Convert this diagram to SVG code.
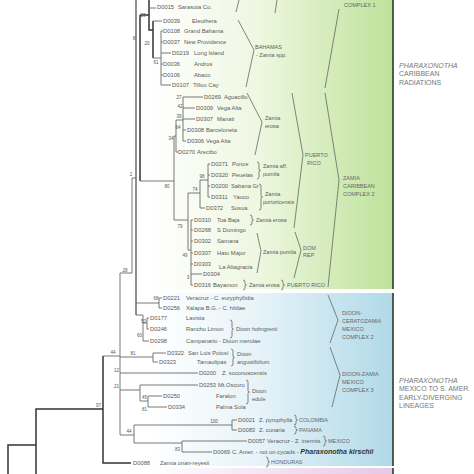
<svg xmlns="http://www.w3.org/2000/svg" width="474" height="474" viewBox="0 0 474 474">
<defs>
<linearGradient id="gG" gradientUnits="userSpaceOnUse" x1="150" y1="0" x2="393" y2="0"><stop offset="0" stop-color="#ffffff"/><stop offset="0.45" stop-color="#eef7e0"/><stop offset="1" stop-color="#bde29a"/></linearGradient>
<linearGradient id="gB" gradientUnits="userSpaceOnUse" x1="150" y1="0" x2="393" y2="0"><stop offset="0" stop-color="#ffffff"/><stop offset="0.45" stop-color="#e6f3f8"/><stop offset="1" stop-color="#b0d9e8"/></linearGradient>
<linearGradient id="gP" gradientUnits="userSpaceOnUse" x1="150" y1="0" x2="393" y2="0"><stop offset="0" stop-color="#ffffff"/><stop offset="1" stop-color="#e4c8ea"/></linearGradient>
</defs>
<style>
text{font-family:"Liberation Sans",Arial,sans-serif;fill:#5a5a5a}
.t{font-size:5.8px}
.s{font-size:4.5px;fill:#555}
.sp{font-size:5.5px}
.cx{font-size:5.5px;fill:#666}
.big{font-size:7px;fill:#777}
.thin{fill:none;stroke:#6a6a6a;stroke-width:0.9}
.thick{fill:none;stroke:#333;stroke-width:1.5}
.med{fill:none;stroke:#444;stroke-width:1.2}
.br{fill:none;stroke:#666;stroke-width:0.8}
.edge{fill:none;stroke:#2b3a2b;stroke-width:1.6}
</style>
<rect width="474" height="474" fill="#ffffff"/>
<g id="backgrounds">
<rect x="0" y="0" width="393" height="289" fill="url(#gG)"/>
<rect x="0" y="293" width="393" height="173" fill="url(#gB)"/>
<rect x="0" y="468" width="393" height="6" fill="url(#gP)"/>
<path class="edge" d="M393 0V289M393 293V466M393 468V474"/>
</g>
<g id="connectors">
<path class="thick" d="M8 474V445H36M36 474V409H103M103 356V463H131M140 15V181M140 15H149M149 0V30H153M153 21V58"/>
<path class="med" d="M136 0V315"/>
<path class="thin" d="M149 8H156M153 21H162M153 58H161M161 31V85M161 31H163M161 42H163M161 53H171M161 64H163M161 75H163M161 85H171
M132 178H136M132 178V273M120 273H132
M140 181H174M174 136V220M174 136H176M176 120V152M176 120H183M176 152H178M183 97V141M183 97H203M183 108H195M183 119H195M183 130H186M183 141H186
M174 220H188M188 193V250M188 193H200M200 180V208M200 180H208M208 164V197M208 164H210M208 175H210M208 186H210M208 197H210M200 208H205
M188 250H191M191 220V285M191 220H193M191 230H193M191 241H193M191 253H193M191 264H193M191 274H202M191 285H193
M136 303H159M159 298V308M159 298H162M159 308H162
M136 315H143M143 315V341M143 323H147M147 318V329M147 318H149M147 329H149M143 341H149
M120 273V435M103 356H120
M120 357H153M153 353V362M153 353H166M153 362H158
M120 373H198
M120 390H140M140 385V401M140 385H198M140 401H148M148 396V407M148 396H162M148 407H167
M120 435H134M134 425V443M134 425H232M232 420V430M232 420H237M232 430H237
M134 443H182M182 441V452M182 441H247M182 452H212"/>
<path class="br" d="M239 0L236 12M277 0L275 13M339 9L325 88M325 93L339 180L328 287
M238 20L254 50L246 87M247 93L262 122L255 155M292 93L303 155L294 228M295 232L301 250L294 278M257 233L261 251L257 273
M328 295L338 320L330 343M330 347L340 375L332 407"/>
<path class="br" d="M257 162Q259 162 259 164L259 169Q259 170.5 260.5 170.5Q259 170.5 259 172L259 177Q259 179 257 179
M259 184Q261 184 261 186L261 195.5Q261 197 262.5 197Q261 197 261 198.5L261 208Q261 210 259 210
M250 215Q252 215 252 217L252 218.5Q252 220 253.5 220Q252 220 252 221.5L252 223Q252 225 250 225
M243 280Q245 280 245 282L245 283.5Q245 285 246.5 285Q245 285 245 286.5L245 288Q245 290 243 290
M281 280Q283 280 283 282L283 283.5Q283 285 284.5 285Q283 285 283 286.5L283 288Q283 290 281 290
M230 320Q232 320 232 322L232 327.5Q232 329 233.5 329Q232 329 232 330.5L232 336Q232 338 230 338
M231 349Q233 349 233 351L233 356Q233 357.5 234.5 357.5Q233 357.5 233 359L233 364Q233 366 231 366
M246 380Q248 380 248 382L248 390.5Q248 392 249.5 392Q248 392 248 393.5L248 402Q248 404 246 404
M294 415Q296 415 296 417L296 418.5Q296 420 297.5 420Q296 420 296 421.5L296 423Q296 425 294 425
M294 426Q296 426 296 428L296 428.5Q296 430 297.5 430Q296 430 296 431.5L296 432Q296 434 294 434
M323 436Q325 436 325 438L325 439.5Q325 441 326.5 441Q325 441 325 442.5L325 444Q325 446 323 446
M266 457Q268 457 268 459L268 460.5Q268 462 269.5 462Q268 462 268 463.5L268 465Q268 467 266 467"/>
</g>
<g id="support-values">
<text class="s" x="143" y="17" text-anchor="middle">23</text>
<text class="s" x="134" y="40" text-anchor="middle">8</text>
<text class="s" x="147" y="45" text-anchor="middle">20</text>
<text class="s" x="156" y="64" text-anchor="middle">61</text>
<text class="s" x="179" y="99" text-anchor="middle">27</text>
<text class="s" x="180" y="108" text-anchor="middle">42</text>
<text class="s" x="179" y="118" text-anchor="middle">39</text>
<text class="s" x="178" y="129" text-anchor="middle">64</text>
<text class="s" x="171" y="140" text-anchor="middle">34</text>
<text class="s" x="131" y="176" text-anchor="middle">2</text>
<text class="s" x="202" y="178" text-anchor="middle">98</text>
<text class="s" x="167" y="188" text-anchor="middle">80</text>
<text class="s" x="195" y="191" text-anchor="middle">74</text>
<text class="s" x="180" y="228" text-anchor="middle">79</text>
<text class="s" x="185" y="257" text-anchor="middle">49</text>
<text class="s" x="188" y="279" text-anchor="middle">3</text>
<text class="s" x="125" y="272" text-anchor="middle">28</text>
<text class="s" x="156" y="300" text-anchor="middle">68</text>
<text class="s" x="146" y="323" text-anchor="end">50</text>
<text class="s" x="142" y="337" text-anchor="end">60</text>
<text class="s" x="113" y="354" text-anchor="middle">44</text>
<text class="s" x="133" y="355" text-anchor="middle">81</text>
<text class="s" x="119" y="372" text-anchor="end">12</text>
<text class="s" x="119" y="388" text-anchor="end">21</text>
<text class="s" x="147" y="399" text-anchor="end">45</text>
<text class="s" x="147" y="411" text-anchor="end">81</text>
<text class="s" x="101" y="407" text-anchor="end">97</text>
<text class="s" x="214" y="423" text-anchor="middle">100</text>
<text class="s" x="129" y="433" text-anchor="middle">44</text>
<text class="s" x="180" y="451" text-anchor="end">83</text>
</g>
<g id="tip-D0015"><text class="t" x="157" y="9">D0015</text><text class="t" x="178" y="9">Sarasota Co.</text></g>
<g id="tip-D0039"><text class="t" x="163" y="23">D0039</text><text class="t" x="192" y="23">Eleuthera</text></g>
<g id="tip-D0108"><text class="t" x="163" y="33">D0108</text><text class="t" x="184" y="33">Grand Bahama</text></g>
<g id="tip-D0037"><text class="t" x="163" y="44">D0037</text><text class="t" x="184" y="44">New Providence</text></g>
<g id="tip-D0219"><text class="t" x="172" y="55">D0219</text><text class="t" x="194" y="55">Long Island</text></g>
<g id="tip-D0036"><text class="t" x="163" y="66">D0036</text><text class="t" x="194" y="66">Andros</text></g>
<g id="tip-D0106"><text class="t" x="163" y="77">D0106</text><text class="t" x="194" y="77">Abaco</text></g>
<g id="tip-D0107"><text class="t" x="172" y="87">D0107</text><text class="t" x="193" y="87">Tilloo Cay</text></g>
<g id="tip-D0269"><text class="t" x="204" y="99">D0269</text><text class="t" x="224" y="99">Aguacillo</text></g>
<g id="tip-D0309"><text class="t" x="196" y="110">D0309</text><text class="t" x="217" y="110">Vega Alta</text></g>
<g id="tip-D0307a"><text class="t" x="196" y="121">D0307</text><text class="t" x="217" y="121">Manati</text></g>
<g id="tip-D0308"><text class="t" x="187" y="132">D0308</text><text class="t" x="206" y="132">Barceloneta</text></g>
<g id="tip-D0306"><text class="t" x="187" y="143">D0306</text><text class="t" x="206" y="143">Vega Alta</text></g>
<g id="tip-D0270"><text class="t" x="178" y="154">D0270</text><text class="t" x="197" y="154">Arecibo</text></g>
<g id="tip-D0271"><text class="t" x="211" y="166">D0271</text><text class="t" x="232" y="166">Ponce</text></g>
<g id="tip-D0320"><text class="t" x="211" y="177">D0320</text><text class="t" x="232" y="177">Peuelas</text></g>
<g id="tip-D0200a"><text class="t" x="211" y="188">D0200</text><text class="t" x="231" y="188">Sabana Gr</text></g>
<g id="tip-D0311"><text class="t" x="211" y="199">D0311</text><text class="t" x="233" y="199">Yauco</text></g>
<g id="tip-D0372"><text class="t" x="206" y="210">D0372</text><text class="t" x="231" y="210">Susua</text></g>
<g id="tip-D0310"><text class="t" x="194" y="222">D0310</text><text class="t" x="217" y="222">Toa Baja</text></g>
<g id="tip-D0268"><text class="t" x="194" y="232">D0268</text><text class="t" x="217" y="232">S Domingo</text></g>
<g id="tip-D0302"><text class="t" x="194" y="243">D0302</text><text class="t" x="217" y="243">Samana</text></g>
<g id="tip-D0307b"><text class="t" x="194" y="255">D0307</text><text class="t" x="217" y="255">Hato Major</text></g>
<g id="tip-D0303"><text class="t" x="194" y="266">D0303</text><text class="t" x="219" y="269">La Altagracia</text></g>
<g id="tip-D0304"><text class="t" x="203" y="276">D0304</text></g>
<g id="tip-D0316"><text class="t" x="194" y="287">D0316</text><text class="t" x="213" y="287">Bayamon</text></g>
<g id="tip-D0221"><text class="t" x="163" y="300">D0221</text><text class="t" x="186" y="300">Veracruz - C. euryphyllidia</text></g>
<g id="tip-D0256"><text class="t" x="163" y="310">D0256</text><text class="t" x="186" y="310">Xalapa B.G. - C. hildae</text></g>
<g id="tip-D0177"><text class="t" x="150" y="320">D0177</text><text class="t" x="186" y="320">Lavista</text></g>
<g id="tip-D0246"><text class="t" x="150" y="331">D0246</text><text class="t" x="186" y="331">Rancho Limon</text></g>
<g id="tip-D0298"><text class="t" x="150" y="343">D0298</text><text class="t" x="186" y="343">Campanario - Dioon merolae</text></g>
<g id="tip-D0322"><text class="t" x="167" y="355">D0322</text><text class="t" x="188" y="355">San Luis Potosí</text></g>
<g id="tip-D0323"><text class="t" x="159" y="364">D0323</text><text class="t" x="197" y="364">Tamaulipas</text></g>
<g id="tip-D0200b"><text class="t" x="199" y="375">D0200</text><text class="t" x="222" y="375">Z. soconuscensis</text></g>
<g id="tip-D0253"><text class="t" x="199" y="387">D0253</text><text class="t" x="218" y="387">Mt.Oscuro</text></g>
<g id="tip-D0250"><text class="t" x="163" y="398">D0250</text><text class="t" x="216" y="398">Faralon</text></g>
<g id="tip-D0334"><text class="t" x="168" y="409">D0334</text><text class="t" x="216" y="409">Palma Sola</text></g>
<g id="tip-D0021"><text class="t" x="238" y="422">D0021</text><text class="t" x="259" y="422">Z. pyrophylla</text></g>
<g id="tip-D0083"><text class="t" x="238" y="432">D0083</text><text class="t" x="259" y="432">Z. cunaria</text></g>
<g id="tip-D0057"><text class="t" x="248" y="443">D0057</text><text class="t" x="267" y="443">Veracruz - Z. inermis</text></g>
<g id="tip-D0069"><text class="t" x="213" y="454">D0069</text><text class="t" x="232" y="454">C. Amer. - not on cycads - <tspan font-weight="bold" font-style="italic" font-size="7" fill="#333">Pharaxonotha kirschii</tspan></text></g>
<g id="tip-D0088"><text class="t" x="133" y="465">D0088</text><text class="t" x="160" y="465">Zamia onan-reyesii</text></g>
<g id="clade-labels">
<text class="sp" x="255" y="49">BAHAMAS</text><text class="sp" x="256" y="57">- Zamia spp.</text>
<text class="sp" x="265" y="120">Zamia</text><text class="sp" x="265" y="128">erosa</text>
<text class="sp" x="263" y="168">Zamia aff.</text><text class="sp" x="263" y="176">pumila</text>
<text class="sp" x="265" y="196">Zamia</text><text class="sp" x="263" y="204">portoricensis</text>
<text class="sp" x="256" y="222">Zamia erosa</text>
<text class="sp" x="263" y="254">Zamia pumila</text>
<text class="sp" x="249" y="287">Zamia erosa</text>
<text class="cx" x="287" y="287">PUERTO RICO</text>
<text class="cx" x="305" y="157">PUERTO</text><text class="cx" x="307" y="165">RICO</text>
<text class="cx" x="303" y="250">DOM</text><text class="cx" x="303" y="257">REP</text>
<text class="sp" x="236" y="331">Dioon holmgrenii</text>
<text class="sp" x="237" y="356">Dioon</text><text class="sp" x="237" y="364">angustifolium</text>
<text class="sp" x="252" y="393">Dioon</text><text class="sp" x="252" y="401">edule</text>
<text class="cx" x="299" y="422">COLOMBIA</text>
<text class="cx" x="299" y="432">PANAMA</text>
<text class="cx" x="328" y="443">MEXICO</text>
<text class="cx" x="271" y="464">HONDURAS</text>
</g>
<g id="complex-labels">
<text class="cx" x="344" y="7">COMPLEX 1</text>
<text class="cx" x="343" y="180">ZAMIA</text><text class="cx" x="343" y="188">CARIBBEAN</text><text class="cx" x="343" y="196">COMPLEX 2</text>
<text class="cx" x="342" y="315">DIOON-</text><text class="cx" x="342" y="323">CERATOZAMIA</text><text class="cx" x="342" y="331">MEXICO</text><text class="cx" x="342" y="339">COMPLEX 2</text>
<text class="cx" x="342" y="376">DIOON-ZAMIA</text><text class="cx" x="342" y="384">MEXICO</text><text class="cx" x="342" y="392">COMPLEX 3</text>
</g>
<g id="group-caribbean">
<text class="big" x="399" y="67.5" font-style="italic">PHARAXONOTHA</text>
<text class="big" x="399" y="76">CARIBBEAN</text>
<text class="big" x="399" y="84.5">RADIATIONS</text>
</g>
<g id="group-mexico">
<text class="big" x="399" y="382.5" font-style="italic">PHARAXONOTHA</text>
<text class="big" x="399" y="391">MEXICO TO S. AMER.</text>
<text class="big" x="399" y="399.5">EARLY-DIVERGING</text>
<text class="big" x="399" y="408">LINEAGES</text>
</g>
</svg>
